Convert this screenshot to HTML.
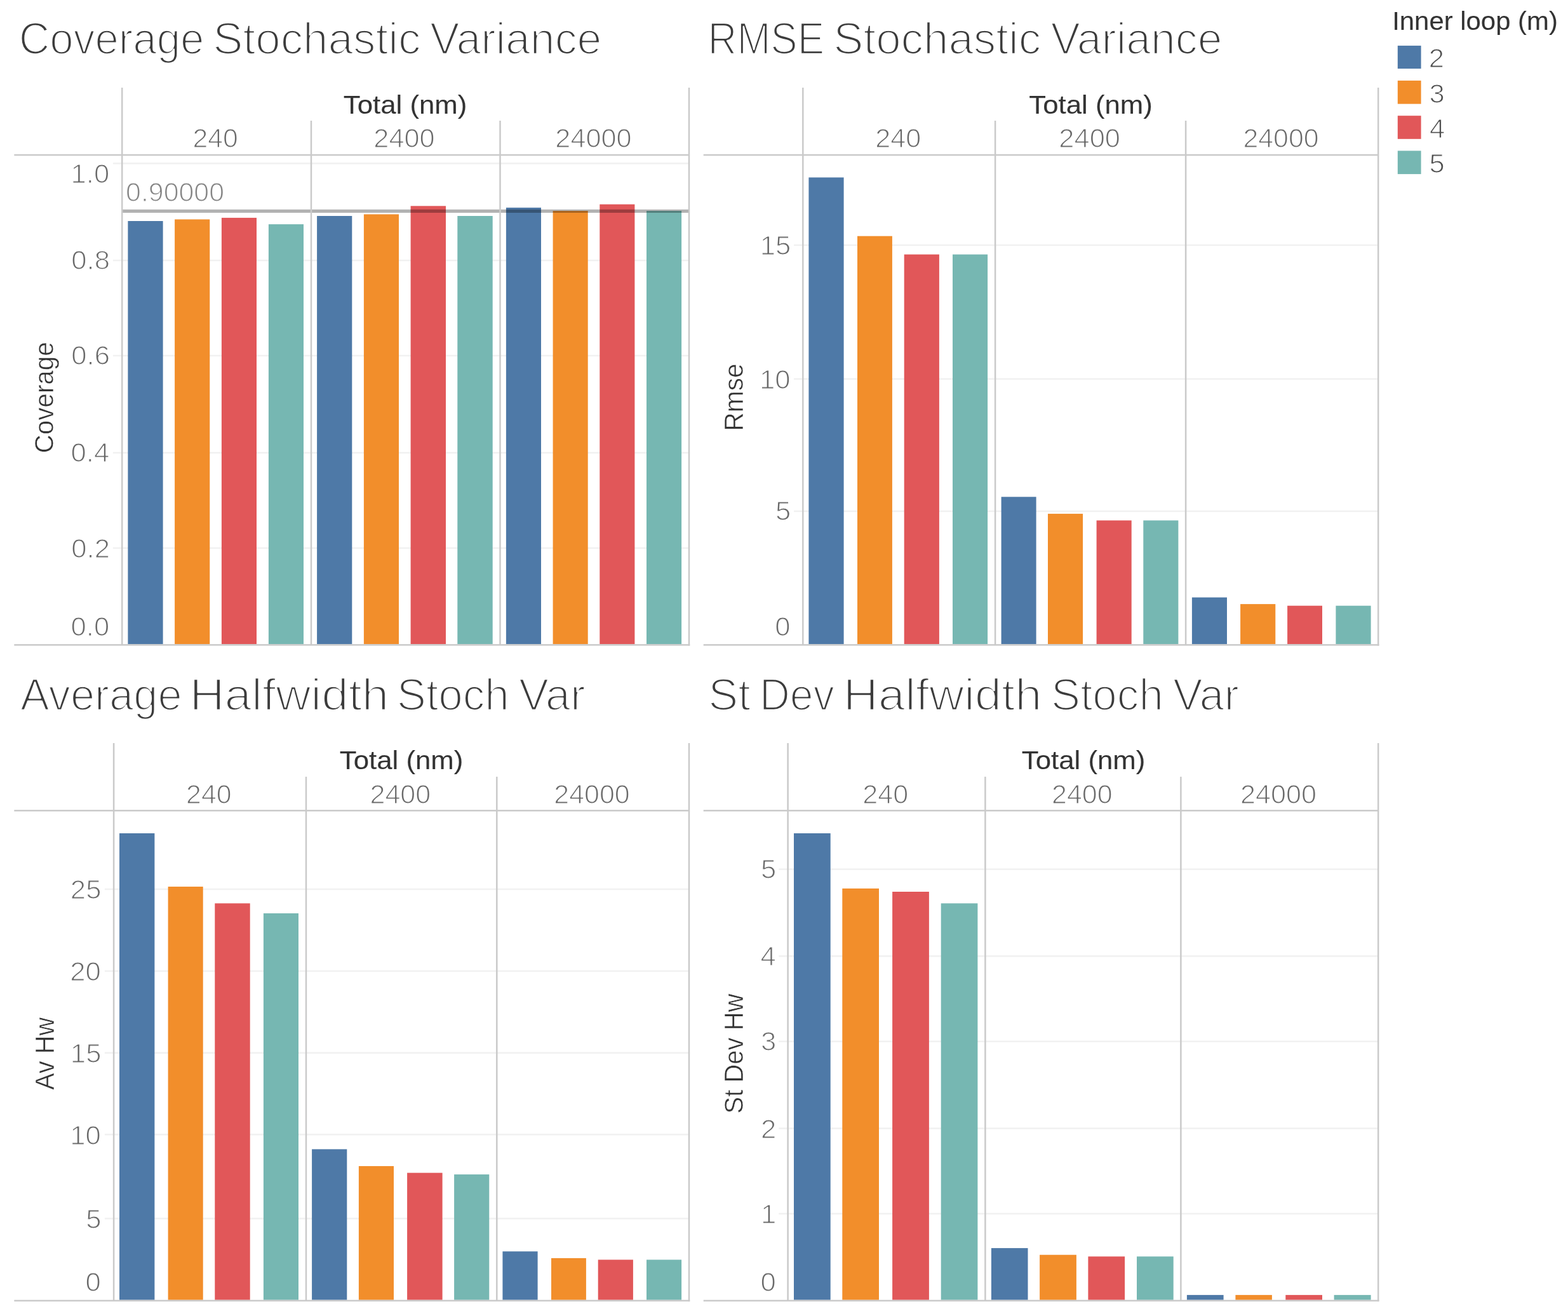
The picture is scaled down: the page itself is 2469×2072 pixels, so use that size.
<!DOCTYPE html>
<html lang="en">
<head>
<meta charset="utf-8">
<title>Stochastic Variance Dashboard</title>
<style>
html,body{margin:0;padding:0;background:#fff;}
body{width:2469px;height:2072px;font-family:"Liberation Sans",sans-serif;}
svg{display:block;}
</style>
</head>
<body>
<svg width="2469" height="2072" viewBox="0 0 2469 2072" font-family="'Liberation Sans', sans-serif">
<rect width="2469" height="2072" fill="#ffffff"/>
<g>
<rect x="177.90" y="256.05" width="907.10" height="2.50" fill="#f1f1f1"/>
<rect x="177.90" y="408.75" width="907.10" height="2.50" fill="#f1f1f1"/>
<rect x="177.90" y="558.75" width="907.10" height="2.50" fill="#f1f1f1"/>
<rect x="177.90" y="711.65" width="907.10" height="2.50" fill="#f1f1f1"/>
<rect x="177.90" y="861.65" width="907.10" height="2.50" fill="#f1f1f1"/>
<rect x="201.40" y="348.00" width="55.20" height="666.20" fill="#4e79a7"/>
<rect x="275.10" y="345.40" width="55.20" height="668.80" fill="#f28e2b"/>
<rect x="348.90" y="342.90" width="55.10" height="671.30" fill="#e15759"/>
<rect x="422.90" y="353.10" width="55.10" height="661.10" fill="#76b7b2"/>
<rect x="499.10" y="340.00" width="55.20" height="674.20" fill="#4e79a7"/>
<rect x="572.90" y="337.40" width="55.10" height="676.80" fill="#f28e2b"/>
<rect x="646.60" y="324.30" width="55.40" height="689.90" fill="#e15759"/>
<rect x="720.30" y="340.00" width="55.40" height="674.20" fill="#76b7b2"/>
<rect x="796.90" y="326.90" width="55.10" height="687.30" fill="#4e79a7"/>
<rect x="870.60" y="332.00" width="55.10" height="682.20" fill="#f28e2b"/>
<rect x="944.30" y="321.70" width="55.10" height="692.50" fill="#e15759"/>
<rect x="1018.00" y="332.00" width="55.10" height="682.20" fill="#76b7b2"/>
<rect x="192.20" y="329.80" width="892.80" height="5.20" fill="#000" fill-opacity="0.3"/>
<rect x="190.95" y="138.00" width="2.50" height="877.40" fill="#cacaca"/>
<rect x="488.75" y="190.00" width="2.50" height="825.40" fill="#cacaca"/>
<rect x="786.25" y="190.00" width="2.50" height="825.40" fill="#cacaca"/>
<rect x="1083.75" y="138.00" width="2.50" height="878.65" fill="#cacaca"/>
<rect x="22.30" y="242.75" width="1062.70" height="2.50" fill="#cacaca"/>
<rect x="22.30" y="1014.15" width="1063.95" height="2.50" fill="#cacaca"/>
<rect x="1250.00" y="384.75" width="920.20" height="2.50" fill="#f1f1f1"/>
<rect x="1250.00" y="595.35" width="920.20" height="2.50" fill="#f1f1f1"/>
<rect x="1250.00" y="803.65" width="920.20" height="2.50" fill="#f1f1f1"/>
<rect x="1273.40" y="279.40" width="55.20" height="734.80" fill="#4e79a7"/>
<rect x="1350.00" y="371.70" width="54.90" height="642.50" fill="#f28e2b"/>
<rect x="1423.70" y="400.60" width="55.20" height="613.60" fill="#e15759"/>
<rect x="1500.00" y="400.60" width="55.10" height="613.60" fill="#76b7b2"/>
<rect x="1576.60" y="782.30" width="55.00" height="231.90" fill="#4e79a7"/>
<rect x="1650.00" y="808.90" width="55.10" height="205.30" fill="#f28e2b"/>
<rect x="1726.60" y="819.40" width="55.10" height="194.80" fill="#e15759"/>
<rect x="1800.30" y="819.40" width="55.10" height="194.80" fill="#76b7b2"/>
<rect x="1876.90" y="940.60" width="55.10" height="73.60" fill="#4e79a7"/>
<rect x="1953.10" y="951.10" width="55.20" height="63.10" fill="#f28e2b"/>
<rect x="2027.10" y="953.70" width="54.90" height="60.50" fill="#e15759"/>
<rect x="2103.40" y="953.70" width="55.20" height="60.50" fill="#76b7b2"/>
<rect x="1263.05" y="138.00" width="2.50" height="877.40" fill="#cacaca"/>
<rect x="1565.85" y="190.00" width="2.50" height="825.40" fill="#cacaca"/>
<rect x="1865.85" y="190.00" width="2.50" height="825.40" fill="#cacaca"/>
<rect x="2168.95" y="138.00" width="2.50" height="878.65" fill="#cacaca"/>
<rect x="1107.70" y="242.75" width="1062.50" height="2.50" fill="#cacaca"/>
<rect x="1107.70" y="1014.15" width="1063.75" height="2.50" fill="#cacaca"/>
<rect x="164.90" y="1398.75" width="920.10" height="2.50" fill="#f1f1f1"/>
<rect x="164.90" y="1527.65" width="920.10" height="2.50" fill="#f1f1f1"/>
<rect x="164.90" y="1656.45" width="920.10" height="2.50" fill="#f1f1f1"/>
<rect x="164.90" y="1785.05" width="920.10" height="2.50" fill="#f1f1f1"/>
<rect x="164.90" y="1917.35" width="920.10" height="2.50" fill="#f1f1f1"/>
<rect x="188.00" y="1312.00" width="55.40" height="734.70" fill="#4e79a7"/>
<rect x="264.60" y="1396.00" width="55.10" height="650.70" fill="#f28e2b"/>
<rect x="338.30" y="1422.30" width="55.40" height="624.40" fill="#e15759"/>
<rect x="414.90" y="1438.00" width="55.10" height="608.70" fill="#76b7b2"/>
<rect x="491.10" y="1809.40" width="55.20" height="237.30" fill="#4e79a7"/>
<rect x="564.90" y="1836.00" width="55.10" height="210.70" fill="#f28e2b"/>
<rect x="641.10" y="1846.60" width="55.50" height="200.10" fill="#e15759"/>
<rect x="715.10" y="1849.10" width="55.20" height="197.60" fill="#76b7b2"/>
<rect x="791.40" y="1970.30" width="55.20" height="76.40" fill="#4e79a7"/>
<rect x="868.00" y="1980.90" width="54.90" height="65.80" fill="#f28e2b"/>
<rect x="941.70" y="1983.40" width="55.20" height="63.30" fill="#e15759"/>
<rect x="1018.00" y="1983.40" width="55.10" height="63.30" fill="#76b7b2"/>
<rect x="177.85" y="1170.00" width="2.50" height="877.90" fill="#cacaca"/>
<rect x="480.75" y="1222.90" width="2.50" height="825.00" fill="#cacaca"/>
<rect x="781.05" y="1222.90" width="2.50" height="825.00" fill="#cacaca"/>
<rect x="1083.75" y="1170.00" width="2.50" height="879.15" fill="#cacaca"/>
<rect x="22.30" y="1275.05" width="1062.70" height="2.50" fill="#cacaca"/>
<rect x="22.30" y="2046.65" width="1063.95" height="2.50" fill="#cacaca"/>
<rect x="1226.30" y="1367.35" width="943.90" height="2.50" fill="#f1f1f1"/>
<rect x="1226.30" y="1504.15" width="943.90" height="2.50" fill="#f1f1f1"/>
<rect x="1226.30" y="1638.45" width="943.90" height="2.50" fill="#f1f1f1"/>
<rect x="1226.30" y="1775.35" width="943.90" height="2.50" fill="#f1f1f1"/>
<rect x="1226.30" y="1909.65" width="943.90" height="2.50" fill="#f1f1f1"/>
<rect x="1250.00" y="1312.00" width="57.70" height="734.70" fill="#4e79a7"/>
<rect x="1326.30" y="1398.90" width="57.70" height="647.80" fill="#f28e2b"/>
<rect x="1405.10" y="1404.00" width="57.80" height="642.70" fill="#e15759"/>
<rect x="1481.70" y="1422.30" width="57.70" height="624.40" fill="#76b7b2"/>
<rect x="1560.90" y="1965.10" width="57.60" height="81.60" fill="#4e79a7"/>
<rect x="1637.10" y="1975.70" width="57.80" height="71.00" fill="#f28e2b"/>
<rect x="1713.40" y="1978.30" width="57.70" height="68.40" fill="#e15759"/>
<rect x="1790.00" y="1978.30" width="57.70" height="68.40" fill="#76b7b2"/>
<rect x="1868.90" y="2038.90" width="57.70" height="7.80" fill="#4e79a7"/>
<rect x="1945.40" y="2038.90" width="57.50" height="7.80" fill="#f28e2b"/>
<rect x="2024.30" y="2038.90" width="57.70" height="7.80" fill="#e15759"/>
<rect x="2100.60" y="2038.90" width="58.00" height="7.80" fill="#76b7b2"/>
<rect x="1239.35" y="1170.00" width="2.50" height="877.90" fill="#cacaca"/>
<rect x="1550.15" y="1222.90" width="2.50" height="825.00" fill="#cacaca"/>
<rect x="1858.15" y="1222.90" width="2.50" height="825.00" fill="#cacaca"/>
<rect x="2168.95" y="1170.00" width="2.50" height="879.15" fill="#cacaca"/>
<rect x="1107.70" y="1275.05" width="1062.50" height="2.50" fill="#cacaca"/>
<rect x="1107.70" y="2046.65" width="1063.75" height="2.50" fill="#cacaca"/>
<rect x="2200.80" y="71.90" width="36.80" height="36.20" fill="#4e79a7"/>
<rect x="2200.80" y="126.90" width="36.80" height="36.70" fill="#f28e2b"/>
<rect x="2200.80" y="182.20" width="36.80" height="36.60" fill="#e15759"/>
<rect x="2200.80" y="237.40" width="36.80" height="36.70" fill="#76b7b2"/>
</g>
<g>
<text y="85.30" font-size="70.4" fill="#3c3c3c" stroke="#fff" stroke-width="2.6" stroke-linejoin="round"><tspan x="29.75" textLength="291.78" lengthAdjust="spacingAndGlyphs">Coverage</tspan> <tspan x="335.18" textLength="327.22" lengthAdjust="spacingAndGlyphs">Stochastic</tspan> <tspan x="677.00" textLength="270.43" lengthAdjust="spacingAndGlyphs">Variance</tspan></text>
<text transform="translate(540.87,178.85) scale(1.0780,1)" font-size="40.6" fill="#333333" stroke="#333333" stroke-width="0.1" stroke-linejoin="round">Total (nm)</text>
<text transform="translate(303.40,231.90) scale(1.0194,1)" font-size="41.9" fill="#6a6a6a" stroke="#fff" stroke-width="1.2" stroke-linejoin="round">240</text>
<text transform="translate(588.37,231.90) scale(1.0332,1)" font-size="41.9" fill="#6a6a6a" stroke="#fff" stroke-width="1.2" stroke-linejoin="round">2400</text>
<text transform="translate(874.37,231.90) scale(1.0325,1)" font-size="41.9" fill="#6a6a6a" stroke="#fff" stroke-width="1.2" stroke-linejoin="round">24000</text>
<text transform="translate(111.53,287.60) scale(1.0431,1)" font-size="41.9" fill="#6a6a6a" stroke="#fff" stroke-width="1.2" stroke-linejoin="round">1.0</text>
<text transform="translate(112.22,424.00) scale(1.0431,1)" font-size="41.9" fill="#6a6a6a" stroke="#fff" stroke-width="1.2" stroke-linejoin="round">0.8</text>
<text transform="translate(112.22,574.30) scale(1.0431,1)" font-size="41.9" fill="#6a6a6a" stroke="#fff" stroke-width="1.2" stroke-linejoin="round">0.6</text>
<text transform="translate(111.53,727.30) scale(1.0431,1)" font-size="41.9" fill="#6a6a6a" stroke="#fff" stroke-width="1.2" stroke-linejoin="round">0.4</text>
<text transform="translate(112.22,877.70) scale(1.0431,1)" font-size="41.9" fill="#6a6a6a" stroke="#fff" stroke-width="1.2" stroke-linejoin="round">0.2</text>
<text transform="translate(111.53,1001.20) scale(1.0431,1)" font-size="41.9" fill="#6a6a6a" stroke="#fff" stroke-width="1.2" stroke-linejoin="round">0.0</text>
<text transform="translate(83.70,713.60) rotate(-90) scale(0.9732,1)" font-size="41.6" fill="#333333" stroke="#fff" stroke-width="0.6" stroke-linejoin="round">Coverage</text>
<text y="85.30" font-size="70.4" fill="#3c3c3c" stroke="#fff" stroke-width="2.6" stroke-linejoin="round"><tspan x="1114.53" textLength="183.63" lengthAdjust="spacingAndGlyphs">RMSE</tspan> <tspan x="1312.29" textLength="326.82" lengthAdjust="spacingAndGlyphs">Stochastic</tspan> <tspan x="1654.50" textLength="269.92" lengthAdjust="spacingAndGlyphs">Variance</tspan></text>
<text transform="translate(1620.37,178.85) scale(1.0780,1)" font-size="40.6" fill="#333333" stroke="#333333" stroke-width="0.1" stroke-linejoin="round">Total (nm)</text>
<text transform="translate(1378.28,231.90) scale(1.0299,1)" font-size="41.9" fill="#6a6a6a" stroke="#fff" stroke-width="1.2" stroke-linejoin="round">240</text>
<text transform="translate(1667.36,231.90) scale(1.0365,1)" font-size="41.9" fill="#6a6a6a" stroke="#fff" stroke-width="1.2" stroke-linejoin="round">2400</text>
<text transform="translate(1957.39,231.90) scale(1.0228,1)" font-size="41.9" fill="#6a6a6a" stroke="#fff" stroke-width="1.2" stroke-linejoin="round">24000</text>
<text transform="translate(1196.66,401.20) scale(1.0431,1)" font-size="41.9" fill="#6a6a6a" stroke="#fff" stroke-width="1.2" stroke-linejoin="round">15</text>
<text transform="translate(1195.98,611.50) scale(1.0431,1)" font-size="41.9" fill="#6a6a6a" stroke="#fff" stroke-width="1.2" stroke-linejoin="round">10</text>
<text transform="translate(1220.96,819.20) scale(1.0431,1)" font-size="41.9" fill="#6a6a6a" stroke="#fff" stroke-width="1.2" stroke-linejoin="round">5</text>
<text transform="translate(1220.28,1001.20) scale(1.0431,1)" font-size="41.9" fill="#6a6a6a" stroke="#fff" stroke-width="1.2" stroke-linejoin="round">0</text>
<text transform="translate(1169.80,678.58) rotate(-90) scale(0.9779,1)" font-size="41.6" fill="#333333" stroke="#fff" stroke-width="0.6" stroke-linejoin="round">Rmse</text>
<text y="1118.10" font-size="70.4" fill="#3c3c3c" stroke="#fff" stroke-width="2.6" stroke-linejoin="round"><tspan x="32.00" textLength="254.58" lengthAdjust="spacingAndGlyphs">Average</tspan> <tspan x="298.54" textLength="313.74" lengthAdjust="spacingAndGlyphs">Halfwidth</tspan> <tspan x="624.84" textLength="177.05" lengthAdjust="spacingAndGlyphs">Stoch</tspan> <tspan x="817.00" textLength="104.64" lengthAdjust="spacingAndGlyphs">Var</tspan></text>
<text transform="translate(534.87,1211.25) scale(1.0780,1)" font-size="40.6" fill="#333333" stroke="#333333" stroke-width="0.1" stroke-linejoin="round">Total (nm)</text>
<text transform="translate(293.09,1265.10) scale(1.0224,1)" font-size="41.9" fill="#6a6a6a" stroke="#fff" stroke-width="1.2" stroke-linejoin="round">240</text>
<text transform="translate(582.48,1265.10) scale(1.0277,1)" font-size="41.9" fill="#6a6a6a" stroke="#fff" stroke-width="1.2" stroke-linejoin="round">2400</text>
<text transform="translate(872.29,1265.10) scale(1.0246,1)" font-size="41.9" fill="#6a6a6a" stroke="#fff" stroke-width="1.2" stroke-linejoin="round">24000</text>
<text transform="translate(110.86,1414.90) scale(1.0431,1)" font-size="41.9" fill="#6a6a6a" stroke="#fff" stroke-width="1.2" stroke-linejoin="round">25</text>
<text transform="translate(110.18,1543.50) scale(1.0431,1)" font-size="41.9" fill="#6a6a6a" stroke="#fff" stroke-width="1.2" stroke-linejoin="round">20</text>
<text transform="translate(110.86,1672.60) scale(1.0431,1)" font-size="41.9" fill="#6a6a6a" stroke="#fff" stroke-width="1.2" stroke-linejoin="round">15</text>
<text transform="translate(110.18,1802.00) scale(1.0431,1)" font-size="41.9" fill="#6a6a6a" stroke="#fff" stroke-width="1.2" stroke-linejoin="round">10</text>
<text transform="translate(135.16,1933.50) scale(1.0431,1)" font-size="41.9" fill="#6a6a6a" stroke="#fff" stroke-width="1.2" stroke-linejoin="round">5</text>
<text transform="translate(134.48,2033.20) scale(1.0431,1)" font-size="41.9" fill="#6a6a6a" stroke="#fff" stroke-width="1.2" stroke-linejoin="round">0</text>
<text transform="translate(84.80,1716.00) rotate(-90) scale(0.9579,1)" font-size="41.6" fill="#333333" stroke="#fff" stroke-width="0.6" stroke-linejoin="round">Av Hw</text>
<text y="1118.10" font-size="70.4" fill="#3c3c3c" stroke="#fff" stroke-width="2.6" stroke-linejoin="round"><tspan x="1115.20" textLength="66.66" lengthAdjust="spacingAndGlyphs">St</tspan> <tspan x="1196.03" textLength="117.77" lengthAdjust="spacingAndGlyphs">Dev</tspan> <tspan x="1327.76" textLength="312.81" lengthAdjust="spacingAndGlyphs">Halfwidth</tspan> <tspan x="1655.04" textLength="176.84" lengthAdjust="spacingAndGlyphs">Stoch</tspan> <tspan x="1847.00" textLength="103.84" lengthAdjust="spacingAndGlyphs">Var</tspan></text>
<text transform="translate(1608.87,1211.25) scale(1.0780,1)" font-size="40.6" fill="#333333" stroke="#333333" stroke-width="0.1" stroke-linejoin="round">Total (nm)</text>
<text transform="translate(1358.28,1265.10) scale(1.0299,1)" font-size="41.9" fill="#6a6a6a" stroke="#fff" stroke-width="1.2" stroke-linejoin="round">240</text>
<text transform="translate(1655.98,1265.10) scale(1.0266,1)" font-size="41.9" fill="#6a6a6a" stroke="#fff" stroke-width="1.2" stroke-linejoin="round">2400</text>
<text transform="translate(1953.08,1265.10) scale(1.0299,1)" font-size="41.9" fill="#6a6a6a" stroke="#fff" stroke-width="1.2" stroke-linejoin="round">24000</text>
<text transform="translate(1198.06,1382.90) scale(1.0431,1)" font-size="41.9" fill="#6a6a6a" stroke="#fff" stroke-width="1.2" stroke-linejoin="round">5</text>
<text transform="translate(1197.38,1520.00) scale(1.0431,1)" font-size="41.9" fill="#6a6a6a" stroke="#fff" stroke-width="1.2" stroke-linejoin="round">4</text>
<text transform="translate(1198.06,1654.30) scale(1.0431,1)" font-size="41.9" fill="#6a6a6a" stroke="#fff" stroke-width="1.2" stroke-linejoin="round">3</text>
<text transform="translate(1198.06,1791.50) scale(1.0431,1)" font-size="41.9" fill="#6a6a6a" stroke="#fff" stroke-width="1.2" stroke-linejoin="round">2</text>
<text transform="translate(1198.06,1926.00) scale(1.0431,1)" font-size="41.9" fill="#6a6a6a" stroke="#fff" stroke-width="1.2" stroke-linejoin="round">1</text>
<text transform="translate(1197.38,2033.20) scale(1.0431,1)" font-size="41.9" fill="#6a6a6a" stroke="#fff" stroke-width="1.2" stroke-linejoin="round">0</text>
<text transform="translate(1169.80,1753.55) rotate(-90) scale(0.9622,1)" font-size="41.6" fill="#333333" stroke="#fff" stroke-width="0.6" stroke-linejoin="round">St Dev Hw</text>
<text transform="translate(198.06,317.20) scale(1.0234,1)" font-size="41.9" fill="#858585" stroke="#fff" stroke-width="1.2" stroke-linejoin="round">0.90000</text>
<text transform="translate(2192.18,47.35) scale(1.0317,1)" font-size="40.6" fill="#333333" stroke="#333333" stroke-width="0.1" stroke-linejoin="round">Inner loop (m)</text>
<text transform="translate(2249.75,106.20) scale(1.0431,1)" font-size="41.9" fill="#505050" stroke="#fff" stroke-width="1.2" stroke-linejoin="round">2</text>
<text transform="translate(2250.43,161.60) scale(1.0431,1)" font-size="41.9" fill="#505050" stroke="#fff" stroke-width="1.2" stroke-linejoin="round">3</text>
<text transform="translate(2251.12,216.60) scale(1.0431,1)" font-size="41.9" fill="#505050" stroke="#fff" stroke-width="1.2" stroke-linejoin="round">4</text>
<text transform="translate(2250.43,271.60) scale(1.0431,1)" font-size="41.9" fill="#505050" stroke="#fff" stroke-width="1.2" stroke-linejoin="round">5</text>
</g>
</svg>
</body>
</html>
